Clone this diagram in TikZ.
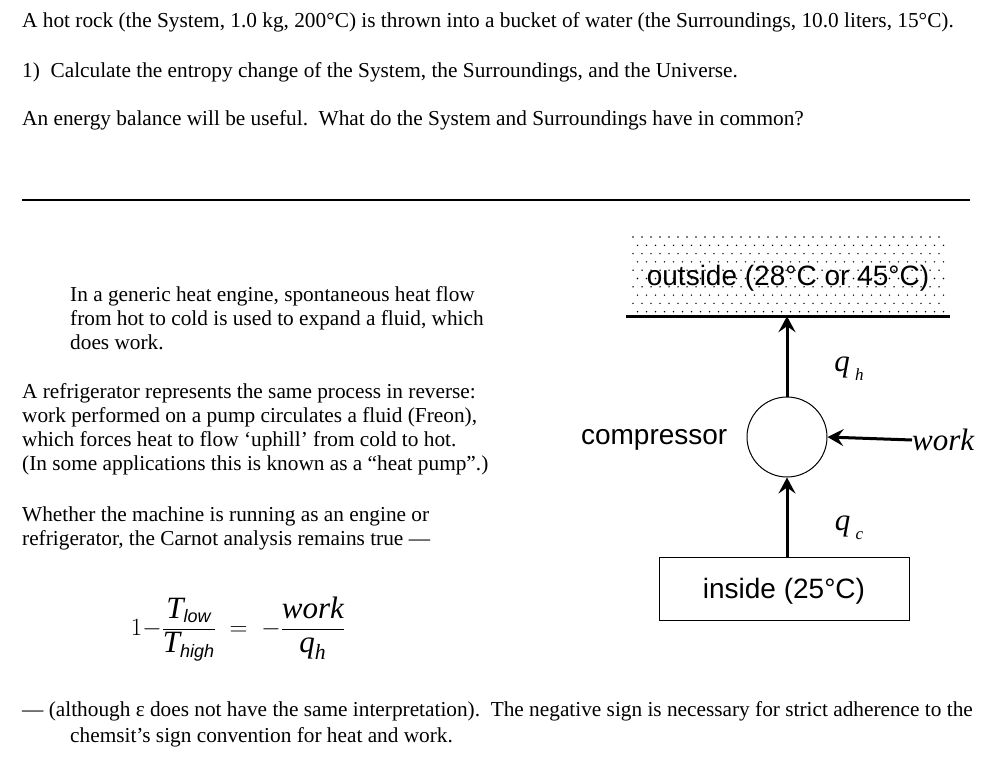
\documentclass[tikz,border=0pt]{standalone}
\usepackage{fontspec}
\setmainfont{Liberation Serif}
\newfontfamily\helv{Liberation Sans}
\usepackage{amsmath}
\usetikzlibrary{arrows.meta,positioning}

\tikzset{
  txt/.style={anchor=base west,inner sep=0pt,font=\fontsize{21.3}{24.3}\selectfont},
  lbl/.style={inner sep=0pt,font=\helv\fontsize{28}{28}\selectfont},
  flow/.style={line width=3pt,-{Stealth[length=16pt,width=17pt,inset=6pt]}},
  heat/.style={inner sep=0pt,font=\fontsize{31}{31}\selectfont\itshape}
}
\newcommand{\heatq}[1]{q\,\raisebox{-9pt}{\fontsize{17}{17}\selectfont #1}}
\newcommand{\subsf}[1]{\text{\helv\itshape\fontsize{18}{18}\selectfont #1}}

\begin{document}
\begin{tikzpicture}[x=1pt,y=-1pt]
  \useasboundingbox (0,0) rectangle (989,766);
  % question
  \node[txt] (q1) at (22,27) {A hot rock (the System, 1.0 kg, 200°C) is thrown into a bucket of water (the Surroundings, 10.0 liters, 15°C).};
  \node[txt] (q2) at (22,77) {1)\enspace Calculate the entropy change of the System, the Surroundings, and the Universe.};
  \node[txt] (q3) at (22,125) {An energy balance will be useful.\enspace What do the System and Surroundings have in common?};
  \draw[line width=1.4pt] (22,200) -- (970,200);

  % left text
  \foreach \t [count=\i] in {{In a generic heat engine, spontaneous heat flow},
      {from hot to cold is used to expand a fluid, which},{does work.}}
    \node[txt] at (70,{301+24.3*(\i-1)}) {\t};
  \foreach \t [count=\i] in {{A refrigerator represents the same process in reverse:},
      {work performed on a pump circulates a fluid (Freon),},
      {which forces heat to flow ‘uphill’ from cold to hot.},
      {(In some applications this is known as a “heat pump”.)}}
    \node[txt] at (22,{398+24.3*(\i-1)}) {\t};
  \node[txt] at (22,521) {Whether the machine is running as an engine or};
  \node[txt] at (22,545) {refrigerator, the Carnot analysis remains true —};

  % Carnot relation
  \node[inner sep=0pt,font=\fontsize{31}{31}\selectfont] (carnot) at (238,629)
    {$1{-}\dfrac{\textit{T}_{\subsf{low}}}{\textit{T}_{\subsf{high}}}
     \;=\; -\dfrac{\textit{work}}{\textit{q}_{\textit{h}}}$};

  \node[txt] at (22,716) {— (although ε does not have the same interpretation).\enspace The negative sign is necessary for strict adherence to the};
  \node[txt] at (70,742) {chemsit’s sign convention for heat and work.};

  % refrigerator diagram
  \foreach \r in {0,...,9}
    \foreach \c in {0,...,34}
      \fill ({633+9*\c+4.5*mod(\r,2)},{237+8.3*\r}) circle (0.8);
  \node[draw=none,minimum width=324,minimum height=80,inner sep=0pt] (outside) at (788,276) {};
  \node[lbl,anchor=base] (outtxt) at (788,285) {outside (28°C or 45°C)};
  \draw[line width=3pt] (outside.south west) -- (outside.south east);
  \node[draw,circle,line width=1pt,minimum size=80,inner sep=0pt] (comp) at (787,437) {};
  \node[lbl,left=19pt of comp,yshift=-3pt] (comptxt) {compressor};
  \node[heat,anchor=west] (work) at (912,440) {work};
  \node[draw,line width=1pt,minimum width=250,minimum height=63,inner sep=0pt] (inside) at (784,588.5) {};
  \node[lbl,yshift=-3pt] (intxt) at (inside.center) {inside (25°C)};
  \node[heat] (qh) at (849,369) {\heatq{h}};
  \node[heat] (qc) at (849,528) {\heatq{c}};
  \draw[flow] (comp.north) -- (comp.north |- outside.south);
  \draw[flow] (inside.north -| comp.south) -- (comp.south);
  \draw[flow] (work.west) -- (comp.east);
\end{tikzpicture}
\end{document}
